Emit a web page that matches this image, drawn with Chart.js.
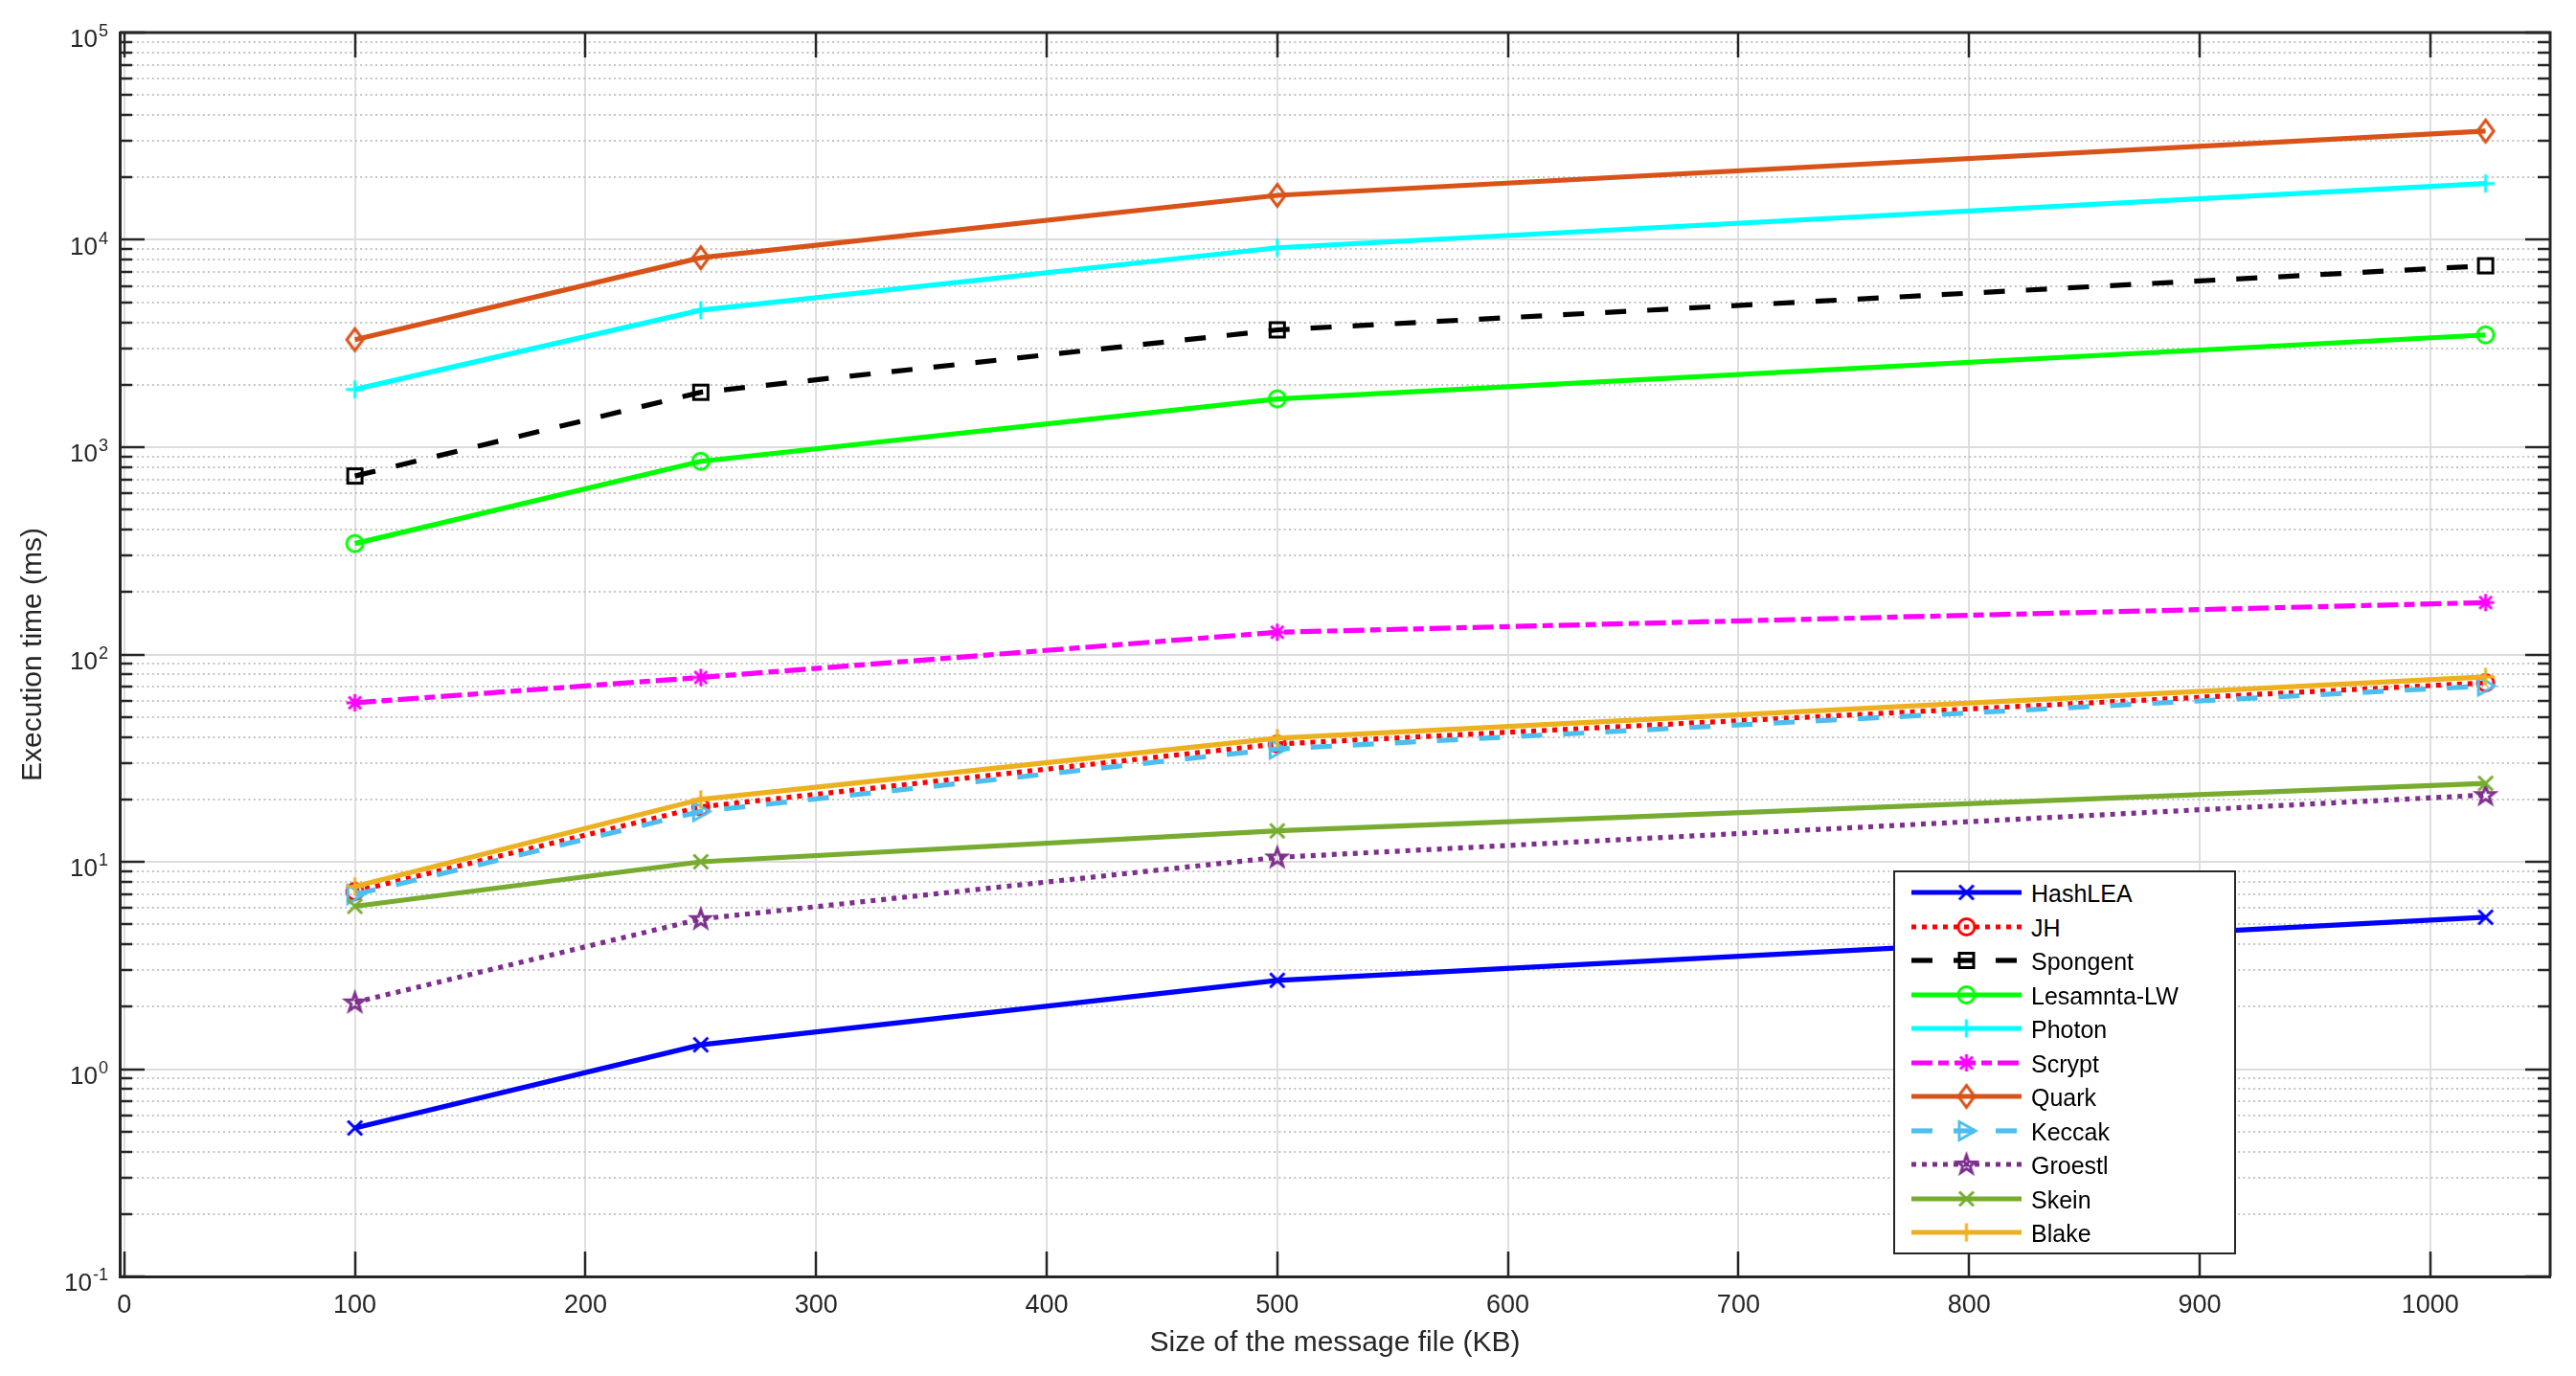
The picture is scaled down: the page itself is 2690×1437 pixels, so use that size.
<!DOCTYPE html>
<html>
<head>
<meta charset="utf-8">
<script src="https://cdn.jsdelivr.net/npm/chart.js@4.4.0/dist/chart.umd.min.js"></script>
<style>
  html, body { margin: 0; padding: 0; background: #ffffff; overflow: hidden; }
  #wrap { position: relative; width: 2690px; height: 1437px; }
  #c { position: absolute; left: 0; top: 0; width: 2690px; height: 1437px; }
  #legend { position: absolute; left: 1977px; top: 909px; width: 358px; height: 401px;
            box-sizing: border-box; border: 2px solid #262626; background: #ffffff;
            font-family: 'Liberation Sans', Arial, Helvetica, sans-serif; font-size: 25px; color: #000; }
  #legend canvas { position: absolute; }
  #legend span { position: absolute; height: 36px; line-height: 36px; white-space: nowrap; }
</style>
</head>
<body>
<div id="wrap">
  <canvas id="c" width="2690" height="1437"></canvas>
  <div id="legend"></div>
</div>
<script>
// ---------------- data ----------------
const sizesKB = [100, 250, 500, 1024];

const seriesNames = ['HashLEA', 'JH', 'Spongent', 'Lesamnta-LW', 'Photon', 'Scrypt',
                     'Quark', 'Keccak', 'Groestl', 'Skein', 'Blake'];

const hashLEA   = [0.52, 1.31, 2.68, 5.4];
const jh        = [7.2, 18.4, 37, 73];
const spongent  = [726, 1840, 3680, 7500];
const lesamnta  = [343, 855, 1710, 3480];
const photon    = [1900, 4580, 9160, 18700];
const scrypt    = [58.5, 77.5, 128, 178];
const quark     = [3300, 8200, 16400, 33500];
const keccak    = [6.95, 17.5, 35, 70.5];
const groestl   = [2.1, 5.3, 10.5, 21];
const skein     = [6.1, 10.0, 14.1, 23.9];
const blake     = [7.6, 20, 39.5, 78];

const xTickValues = [0, 100, 200, 300, 400, 500, 600, 700, 800, 900, 1000];
const yDecadeTicks = [0.1, 1, 10, 100, 1000, 10000, 100000];

const seriesValues = [hashLEA, jh, spongent, lesamnta, photon, scrypt, quark, keccak, groestl, skein, blake];

// ---------------- styles ----------------
const seriesColors = ['#0000FF', '#FF0000', '#000000', '#00FF00', '#00FFFF', '#FF00FF',
                      '#D95319', '#4DBEEE', '#7E2F8E', '#77AC30', '#EDB120'];
const DOT = [5, 6], DASH = [22, 22], DASHDOT = [22, 6, 11, 6], SOLID = [];
const seriesDash = [SOLID, DOT, DASH, SOLID, SOLID, DASHDOT, SOLID, DASH, DOT, SOLID, SOLID];
const seriesMarker = ['x', 'o', 's', 'o', '+', '*', 'd', '>', 'p', 'x', '+'];

const FONT = "'Liberation Sans', Arial, Helvetica, sans-serif";
const AX = '#262626';
const LINE_W = 5.2;

// marker images (MATLAB-like open markers)
function makeMarker(kind, color) {
  const S = 32, c = document.createElement('canvas');
  c.width = S; c.height = S;
  const g = c.getContext('2d');
  const o = S / 2;
  g.strokeStyle = color; g.lineWidth = 3; g.lineJoin = 'miter';
  g.beginPath();
  if (kind === 'x') {
    const r = 7.5;
    g.moveTo(o - r, o - r); g.lineTo(o + r, o + r);
    g.moveTo(o - r, o + r); g.lineTo(o + r, o - r);
  } else if (kind === 'o') {
    g.arc(o, o, 8.5, 0, Math.PI * 2);
  } else if (kind === 's') {
    g.rect(o - 7.5, o - 7.5, 15, 15);
  } else if (kind === '+') {
    const r = 9.5;
    g.moveTo(o - r, o); g.lineTo(o + r, o);
    g.moveTo(o, o - r); g.lineTo(o, o + r);
  } else if (kind === '*') {
    const r = 9, q = 6.5;
    g.moveTo(o - r, o); g.lineTo(o + r, o);
    g.moveTo(o, o - r); g.lineTo(o, o + r);
    g.moveTo(o - q, o - q); g.lineTo(o + q, o + q);
    g.moveTo(o - q, o + q); g.lineTo(o + q, o - q);
  } else if (kind === 'd') {
    g.moveTo(o, o - 11.5); g.lineTo(o + 8.5, o); g.lineTo(o, o + 11.5); g.lineTo(o - 8.5, o); g.closePath();
  } else if (kind === '>') {
    g.moveTo(o + 9.5, o); g.lineTo(o - 7.5, o - 9.5); g.lineTo(o - 7.5, o + 9.5); g.closePath();
  } else if (kind === 'p') {
    const R = 10, r = 4;
    for (let k = 0; k < 10; k++) {
      const a = -Math.PI / 2 + k * Math.PI / 5;
      const rr = k % 2 === 0 ? R : r;
      const px = o + rr * Math.cos(a), py = o + 0.5 + rr * Math.sin(a);
      if (k === 0) g.moveTo(px, py); else g.lineTo(px, py);
    }
    g.closePath();
  }
  g.stroke();
  return c;
}

const markerImages = seriesMarker.map((m, i) => makeMarker(m, seriesColors[i]));

function isDecade(v) {
  const l = Math.log10(v);
  return Math.abs(l - Math.round(l)) < 1e-9;
}
function decadeExponent(v) { return String(Math.round(Math.log10(v))); }

// all y ticks: decades plus 2..9 minor ticks
const yAllTicks = [];
yDecadeTicks.forEach((d, k) => {
  yAllTicks.push(d);
  if (k < yDecadeTicks.length - 1) for (let m = 2; m <= 9; m++) yAllTicks.push(m * d);
});

const N = seriesNames.length;
const datasets = seriesNames.map((name, i) => ({
  label: name,
  data: sizesKB.map((x, j) => ({ x: x, y: seriesValues[i][j] })),
  borderColor: seriesColors[i],
  backgroundColor: seriesColors[i],
  borderWidth: LINE_W,
  borderDash: seriesDash[i],
  borderCapStyle: 'butt',
  pointStyle: markerImages[i],
  pointRadius: 9,
  pointHoverRadius: 9,
  fill: false,
  tension: 0,
  order: N - i
}));

// box, inner ticks (MATLAB style)
const framePlugin = {
  id: 'frame',
  beforeDatasetsDraw(chart) {
    const { ctx, chartArea: a, scales: { x, y } } = chart;
    ctx.save();
    ctx.strokeStyle = AX;
    ctx.lineWidth = 2.5;
    ctx.beginPath();
    x.ticks.forEach(t => {
      const px = Math.round(x.getPixelForValue(t.value));
      ctx.moveTo(px, a.bottom); ctx.lineTo(px, a.bottom - 26);
      ctx.moveTo(px, a.top); ctx.lineTo(px, a.top + 26);
    });
    y.ticks.forEach(t => {
      const py = Math.round(y.getPixelForValue(t.value));
      const L = isDecade(t.value) ? 26 : 13;
      ctx.moveTo(a.left, py); ctx.lineTo(a.left + L, py);
      ctx.moveTo(a.right, py); ctx.lineTo(a.right - L, py);
    });
    ctx.stroke();
    ctx.lineWidth = 3;
    ctx.beginPath();
    ctx.moveTo(a.left, a.top); ctx.lineTo(a.right, a.top); ctx.lineTo(a.right, a.bottom);
    ctx.stroke();
    ctx.restore();
  },
  // y tick labels as 10 with a raised exponent, placed at the scale's tick pixels
  afterDraw(chart) {
    const { ctx, chartArea: a, scales: { y } } = chart;
    ctx.save();
    ctx.fillStyle = AX;
    ctx.textAlign = 'left';
    ctx.textBaseline = 'alphabetic';
    y.ticks.forEach(t => {
      if (!isDecade(t.value)) return;
      const py = y.getPixelForValue(t.value);
      const ex = decadeExponent(t.value);
      ctx.font = '18px ' + FONT;
      const we = ctx.measureText(ex).width;
      ctx.font = '26px ' + FONT;
      const wb = ctx.measureText('10').width;
      const xe = a.left - 12 - we;
      const xb = xe - 1 - wb;
      ctx.fillText('10', xb, py + 15.3);
      ctx.font = '18px ' + FONT;
      ctx.fillText(ex, xe, py + 4.4);
    });
    ctx.restore();
  }
};

const chart = new Chart(document.getElementById('c'), {
  type: 'line',
  data: { datasets },
  options: {
    responsive: false,
    devicePixelRatio: 1,
    animation: false,
    events: [],
    layout: { padding: { left: 0, right: 27, top: 34, bottom: 0 } },
    plugins: { legend: { display: false }, tooltip: { enabled: false } },
    scales: {
      x: {
        type: 'linear',
        min: -2,
        max: 1052,
        afterBuildTicks: s => { s.ticks = xTickValues.map(v => ({ value: v })); },
        afterFit: s => { s.height = 104; },
        ticks: { autoSkip: false, maxRotation: 0, padding: 14, color: AX,
                 font: { family: FONT, size: 27 }, callback: v => String(v) },
        grid: { color: '#dfdfdf', lineWidth: 2, drawTicks: false },
        border: { color: AX, width: 3 },
        title: { display: true, text: 'Size of the message file (KB)', color: AX,
                 font: { family: FONT, size: 30 }, padding: { top: 0, bottom: 16 } }
      },
      y: {
        type: 'logarithmic',
        min: 0.1,
        max: 100000,
        afterBuildTicks: s => { s.ticks = yAllTicks.map(v => ({ value: v, major: isDecade(v) })); },
        afterFit: s => { s.width = 125; },
        ticks: { display: false, autoSkip: false },
        grid: {
          drawTicks: false,
          color: c => (c.tick && !isDecade(c.tick.value) ? '#c4c4c4' : '#dcdcdc'),
          lineWidth: 2
        },
        border: {
          color: AX, width: 3,
          dash: c => (c.tick && !isDecade(c.tick.value) ? [2, 3.3] : [])
        },
        title: { display: true, text: 'Execution time (ms)', color: AX,
                 font: { family: FONT, size: 30 }, padding: { top: 17, bottom: 0 } }
      }
    }
  },
  plugins: [framePlugin]
});

// ---------------- legend (HTML) ----------------
const legend = document.getElementById('legend');
seriesNames.forEach((name, i) => {
  const cy = 21 + i * 35.5;
  const cv = document.createElement('canvas');
  cv.width = 124; cv.height = 36;
  cv.style.left = '14px';
  cv.style.top = (cy - 18) + 'px';
  const g = cv.getContext('2d');
  g.strokeStyle = seriesColors[i];
  g.lineWidth = LINE_W;
  g.lineCap = 'butt';
  g.setLineDash(seriesDash[i]);
  g.beginPath(); g.moveTo(3, 18); g.lineTo(118, 18); g.stroke();
  g.setLineDash([]);
  const m = markerImages[i];
  g.drawImage(m, 60.5 - m.width / 2, 18 - m.height / 2);
  legend.appendChild(cv);
  const sp = document.createElement('span');
  sp.textContent = name;
  sp.style.left = '142px';
  sp.style.top = (cy - 18 + 1) + 'px';
  legend.appendChild(sp);
});
</script>
</body>
</html>
